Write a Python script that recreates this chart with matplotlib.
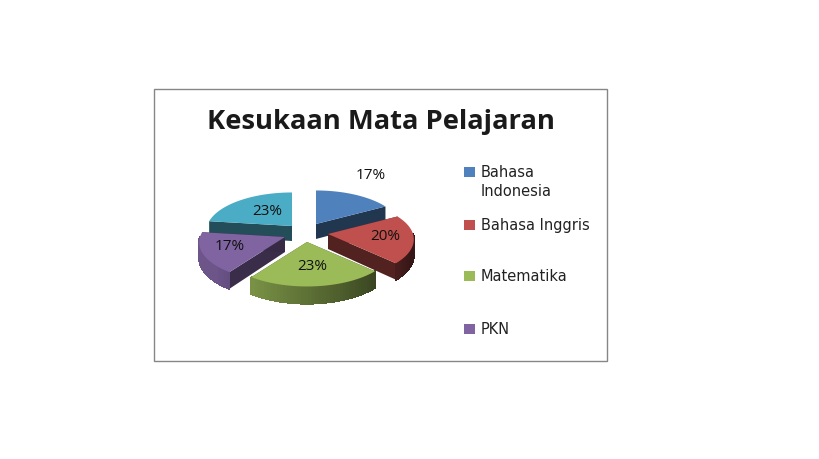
import numpy as np
import matplotlib
matplotlib.use("Agg")
import matplotlib.pyplot as plt
from matplotlib.patches import Polygon, Rectangle

title = "Kesukaan Mata Pelajaran"
categories = ["Bahasa\nIndonesia", "Bahasa Inggris", "Matematika", "PKN", ""]
values = [17, 20, 23, 17, 23]

colors = ["#4f81bd", "#c0504d", "#9bbb59", "#8064a2", "#4bacc6"]
apex = [(316, 225), (328, 235), (307, 243), (285, 238), (292, 227)]
label_pos = [(371, 176), (385, 237), (312, 267), (230, 247), (267, 212)]
legend_y = [173, 226, 277, 330]

RX, RY, DEPTH, NEAR = 85, 39, 15, 0.14


def rim_point(center, deg):
    t = np.radians(deg)
    f = 1 - NEAR * np.cos(t)
    return (center[0] + RX * f * np.sin(t), center[1] - RY * f * np.cos(t))


def drop(p, deg):
    f = 1 - NEAR * np.cos(np.radians(deg))
    return (p[0], p[1] + DEPTH * f)


def shade(color, s):
    return tuple(c * s for c in matplotlib.colors.to_rgb(color))


def rim_shade(deg):
    return float(np.clip(0.3 + 0.55 * (deg - 120) / 110, 0.28, 0.85))


def draw_slice(ax, center, start, end, color):
    # cut faces first, the top covers whatever faces away
    for deg, s in ((start, 0.45), (end, 0.42)):
        p = rim_point(center, deg)
        face = [center, p, drop(p, deg), (center[0], center[1] + DEPTH)]
        ax.add_patch(Polygon(face, fc=shade(color, s), ec="none"))
    # only the front half of the rim can be seen
    lo, hi = max(start, 90), min(end, 270)
    if hi > lo:
        steps = np.linspace(lo, hi, 40)
        for a, b in zip(steps[:-1], steps[1:]):
            p, q = rim_point(center, a), rim_point(center, b)
            c = shade(color, rim_shade((a + b) / 2))
            ax.add_patch(Polygon([p, q, drop(q, b), drop(p, a)], fc=c, ec=c,
                                 lw=0.8, antialiased=False))
    top = [center] + [rim_point(center, d) for d in np.linspace(start, end, 60)]
    ax.add_patch(Polygon(top, fc=color, ec="none"))


fig = plt.figure(figsize=(8.19, 4.6), dpi=100)
ax = fig.add_axes([0, 0, 1, 1])
ax.set_xlim(0, 819)
ax.set_ylim(460, 0)
ax.axis("off")

ax.add_patch(Rectangle((154, 89.5), 453, 272, fc="white", ec="#868686", lw=1))
ax.text(381, 122, title, ha="center", va="center", fontsize=19.7,
        fontweight="bold", family="Open Sans", color="#1a1a1a")

edges = np.cumsum([0] + values) / sum(values) * 360
for i in [4, 0, 3, 1, 2]:
    draw_slice(ax, apex[i], edges[i], edges[i + 1], colors[i])

for v, pos in zip(values, label_pos):
    ax.text(pos[0], pos[1], f"{v}%", ha="center", va="center", fontsize=11,
            family="Open Sans", color="#111111")

for name, y, c in zip(categories, legend_y, colors):
    ax.add_patch(Rectangle((464, y - 5), 11, 10, fc=c, ec="none"))
    ax.text(481, y - 7.5, name, ha="left", va="top", fontsize=10.5,
            family="DejaVu Sans", color="#222222", linespacing=1.3)

fig.savefig("out.png", dpi=100)
